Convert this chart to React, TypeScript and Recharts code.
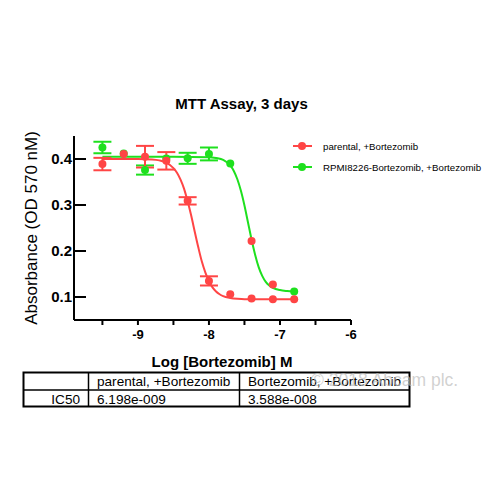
import {
  ComposedChart,
  ErrorBar,
  Line,
  Scatter,
  XAxis,
  YAxis,
} from "recharts";

// log dose (M) of the measured wells
const doses = [-9.5, -9.2, -8.9, -8.6, -8.3, -8.0, -7.7, -7.4, -7.1, -6.8];

// parental, +Bortezomib (null = error smaller than the symbol)
const parentalMean = [0.389, 0.411, 0.405, 0.396, 0.309, 0.135, 0.106, 0.097, 0.095, 0.095];
const parentalErr = [0.0135, null, 0.0235, 0.019, 0.008, 0.01, null, null, null, null];

// RPMI8226-Bortezomib, +Bortezomib
const resistantMean = [0.425, 0.412, 0.376, 0.401, 0.4015, 0.411, 0.39, 0.222, 0.127, 0.112];
const resistantErr = [0.0125, null, 0.01, null, 0.012, 0.014, null, null, null, null];

// fitted curves
const parentalFitX = [-9.5, -9.0, -8.8, -8.7, -8.6, -8.5, -8.45, -8.4, -8.35, -8.3, -8.25, -8.2, -8.15, -8.1, -8.05, -8.0, -7.95, -7.9, -7.85, -7.8, -7.7, -7.6, -7.5, -7.2, -6.8];
const parentalFitY = [0.4, 0.4, 0.399, 0.397, 0.392, 0.38, 0.37, 0.355, 0.335, 0.308, 0.277, 0.242, 0.208, 0.177, 0.153, 0.134, 0.121, 0.112, 0.106, 0.102, 0.098, 0.096, 0.095, 0.095, 0.095];
const resistantFitX = [-9.5, -8.5, -8.0, -7.9, -7.8, -7.7, -7.65, -7.6, -7.55, -7.5, -7.45, -7.4, -7.35, -7.3, -7.25, -7.2, -7.15, -7.1, -7.0, -6.9, -6.8];
const resistantFitY = [0.405, 0.405, 0.404, 0.402, 0.398, 0.386, 0.374, 0.356, 0.331, 0.299, 0.262, 0.225, 0.192, 0.165, 0.146, 0.133, 0.125, 0.12, 0.115, 0.113, 0.112];

const xTicks = [-9.5, -9, -8.5, -8, -7.5, -7, -6.5, -6];
const yTicks = [0.1, 0.2, 0.3, 0.4];

const seriesNames = ["parental, +Bortezomib", "RPMI8226-Bortezomib, +Bortezomib"];
const tableHeader = ["", "parental, +Bortezomib", "Bortezomib, +Bortezomib"];
const tableRow = ["IC50", "6.198e-009", "3.588e-008"];

const RED = "#ff4545";
const GREEN = "#1ee01e";
const FONT = "'Liberation Sans', Arial, sans-serif";

// in the source image these two green-series symbols are painted red
const redPaintedDoses = [-7.4, -7.1];

const points = (ys: number[], errs: (number | null)[]) =>
  doses.map((x, i) => ({ x, y: ys[i], err: errs[i] }));
const curve = (xs: number[], ys: number[]) => xs.map((x, i) => ({ x, y: ys[i] }));

const XTick = ({ x, y, payload }: any) => {
  if (!Number.isInteger(payload.value)) return null;
  return (
    <text
      x={x}
      y={y}
      dy="0.71em"
      textAnchor="middle"
      fontSize={13}
      fontWeight="bold"
      fontFamily={FONT}
      fill="#000"
    >
      {payload.value}
    </text>
  );
};

const dot = (color: string) => (p: any) => {
  const fill =
    color === GREEN && redPaintedDoses.includes(p.payload?.x) ? RED : color;
  return <circle cx={p.cx} cy={p.cy} r={4} fill={fill} />;
};
const noDot = () => <g />;

// error bars first, then the symbols on top of them
const series = (data: any[], color: string) => [
  <Scatter
    key={color + "-err"}
    data={data.filter((d) => d.err != null)}
    dataKey="y"
    fill={color}
    shape={noDot}
    isAnimationActive={false}
  >
    <ErrorBar dataKey="err" direction="y" width={9} stroke={color} strokeWidth={2} />
  </Scatter>,
  <Scatter
    key={color + "-pts"}
    data={data}
    dataKey="y"
    fill={color}
    shape={dot(color)}
    isAnimationActive={false}
  />,
];

const App = () => {
  return (
    <div
      style={{
        position: "fixed",
        top: 0,
        left: 0,
        width: 500,
        height: 500,
        background: "#fff",
        fontFamily: FONT,
      }}
    >
      <ComposedChart
        width={500}
        height={350}
        margin={{ top: 136, right: 149, bottom: 0, left: 0 }}
      >
        <XAxis
          type="number"
          dataKey="x"
          domain={[-9.9, -6]}
          ticks={xTicks}
          allowDataOverflow
          height={30}
          tickSize={5}
          tickMargin={5}
          stroke="#000"
          strokeWidth={2}
          tick={<XTick />}
        />
        <YAxis
          type="number"
          dataKey="y"
          domain={[0.05, 0.45]}
          ticks={yTicks}
          allowDataOverflow
          width={74}
          tickSize={-12}
          tickMargin={14}
          stroke="#000"
          strokeWidth={2}
          tickFormatter={(v: number) => v.toFixed(1)}
          tick={{ fontSize: 15, fontWeight: "bold", fill: "#000", fontFamily: FONT }}
        />
        <Line
          data={curve(resistantFitX, resistantFitY)}
          dataKey="y"
          type="monotone"
          stroke={GREEN}
          strokeWidth={2}
          dot={false}
          activeDot={false}
          isAnimationActive={false}
        />
        {series(points(resistantMean, resistantErr), GREEN)}
        <Line
          data={curve(parentalFitX, parentalFitY)}
          dataKey="y"
          type="monotone"
          stroke={RED}
          strokeWidth={2}
          dot={false}
          activeDot={false}
          isAnimationActive={false}
        />
        {series(points(parentalMean, parentalErr), RED)}
      </ComposedChart>

      <svg
        width={500}
        height={500}
        style={{ position: "absolute", top: 0, left: 0, pointerEvents: "none" }}
        fontFamily={FONT}
      >
        <text x={241.5} y={109} textAnchor="middle" fontSize={15} fontWeight="bold">
          MTT Assay, 3 days
        </text>
        <text
          x={0}
          y={0}
          transform="translate(37 228) rotate(-90)"
          textAnchor="middle"
          fontSize={17}
        >
          Absorbance (OD 570 nM)
        </text>
        <text x={222} y={367} textAnchor="middle" fontSize={15} fontWeight="bold">
          Log [Bortezomib] M
        </text>

        {[RED, GREEN].map((c, i) => (
          <g key={c}>
            <line x1={293} x2={312} y1={146 + i * 21} y2={146 + i * 21} stroke={c} strokeWidth={2} />
            <circle cx={302} cy={146 + i * 21} r={4} fill={c} />
            <text x={323} y={149.5 + i * 21} fontSize={9.7}>
              {seriesNames[i]}
            </text>
          </g>
        ))}

        <rect x={23.5} y={372.5} width={386} height={34} fill="none" stroke="#000" strokeWidth={2} />
        <line x1={23.5} x2={409.5} y1={390} y2={390} stroke="#000" strokeWidth={1.5} />
        <line x1={88.5} x2={88.5} y1={372.5} y2={406.5} stroke="#000" strokeWidth={1.5} />
        <line x1={239.5} x2={239.5} y1={372.5} y2={406.5} stroke="#000" strokeWidth={1.5} />
        <text x={97} y={386} fontSize={13.6}>{tableHeader[1]}</text>
        <text x={248} y={386} fontSize={13.6}>{tableHeader[2]}</text>
        <text x={80} y={403.5} fontSize={13.6} textAnchor="end">{tableRow[0]}</text>
        <text x={97} y={403.5} fontSize={13.6}>{tableRow[1]}</text>
        <text x={248} y={403.5} fontSize={13.6}>{tableRow[2]}</text>

        <text x={311} y={386} fontSize={17.5} fill="#bdbdbd" fillOpacity={0.7}>
          © 2018 Abcam plc.
        </text>
      </svg>
    </div>
  );
};

export default App;
